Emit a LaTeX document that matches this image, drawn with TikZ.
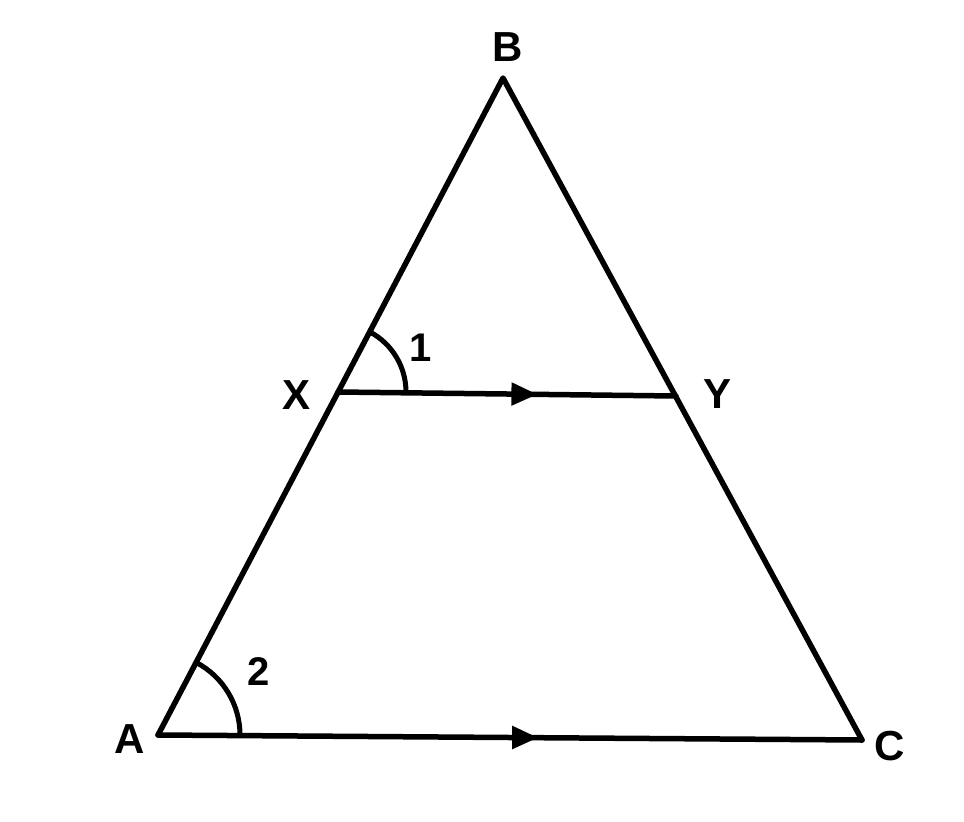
\documentclass[tikz,border=0pt]{standalone}
\usepackage{fontspec}
\setmainfont{Liberation Sans}
\usetikzlibrary{arrows.meta,decorations.markings}
\begin{document}
\begin{tikzpicture}[x=1pt,y=-1pt,line join=round,line cap=round,
  edge/.style={line width=5.5pt,black},
  arcline/.style={line width=5pt,black},
  lbl/.style={font=\fontsize{42}{42}\selectfont\bfseries,inner sep=0pt},
  num/.style={font=\fontsize{40}{40}\selectfont\bfseries,inner sep=0pt},
  midarrow/.style={postaction={decorate},decoration={markings,
     mark=at position #1 with {\arrow{Triangle[length=26pt,width=22pt]}}}}]
\useasboundingbox (0,0) rectangle (964,822);
\coordinate (B) at (503,78);
\coordinate (X) at (338,392);
\coordinate (Y) at (676,396);
\coordinate (A) at (158,735);
\coordinate (C) at (862,740);
\draw[edge] (A) -- (B) -- (C);
\draw[edge,midarrow=0.59] (X) -- (Y);
\draw[edge,midarrow=0.54] (A) -- (C);
% angle arcs
\draw[arcline] ([shift={(68,0)}]X) arc[start angle=0,end angle=-62,radius=68];
\draw[arcline] ([shift={(82,0)}]A) arc[start angle=0,end angle=-62,radius=82];
\node[lbl] (lB) at (508,47) {B};
\node[lbl] (lX) at (297,395) {X};
\node[lbl] (lY) at (717,394) {Y};
\node[lbl] (lA) at (130,739) {A};
\node[lbl] (lC) at (890,746) {C};
\node[num] (n1) at (421,348) {1};
\node[num] (n2) at (259,672) {2};
\end{tikzpicture}
\end{document}
